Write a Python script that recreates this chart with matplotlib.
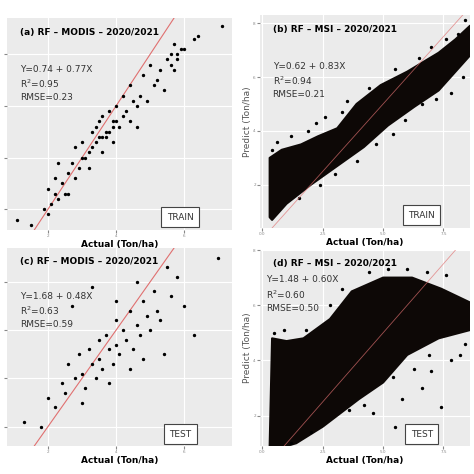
import numpy as np
import matplotlib.pyplot as plt
from matplotlib.patches import Polygon

# ── данные, оценены по картинке ────────────────────────────────────────
# (a) RF - MODIS train
a_x = [1.1, 1.5, 1.9, 2.0, 2.1, 2.2, 2.0, 2.3, 2.4, 2.2, 2.5, 2.6, 2.3, 2.8, 2.7, 2.9, 3.0, 2.8,
       3.1, 3.2, 3.0, 3.3, 3.4, 3.5, 3.3, 3.6, 3.4, 3.7, 3.5, 3.8, 3.6, 3.9, 3.7, 4.0, 3.8, 4.1,
       3.9, 4.2, 4.0, 4.3, 4.4, 4.2, 4.5, 4.6, 4.4, 4.7, 4.8, 5.0, 5.1, 5.2, 5.4, 5.5, 5.6, 5.7,
       5.6, 5.8, 5.9, 5.7, 5.8, 6.0, 6.3, 6.4, 7.1, 3.6, 3.9, 4.6, 4.9, 5.3, 2.6, 3.2]
a_y = [1.8, 1.7, 2.0, 1.9, 2.1, 2.3, 2.4, 2.2, 2.5, 2.6, 2.3, 2.7, 2.9, 2.6, 2.9, 2.8, 3.0, 3.2,
       3.0, 3.1, 3.3, 3.2, 3.3, 3.4, 3.5, 3.4, 3.6, 3.5, 3.7, 3.5, 3.8, 3.6, 3.4, 3.7, 3.9, 3.6,
       3.7, 3.8, 4.0, 3.9, 3.7, 4.2, 4.1, 4.0, 4.4, 4.2, 4.6, 4.8, 4.4, 4.5, 4.3, 4.9, 5.0, 5.2,
       4.8, 5.0, 5.1, 4.7, 4.9, 5.1, 5.3, 5.35, 5.55, 3.1, 3.3, 3.6, 4.1, 4.7, 2.3, 2.8]

# (c) RF - MODIS test
c_x = [1.3, 1.8, 2.0, 2.2, 2.4, 2.5, 2.6, 2.8, 2.9, 3.0, 3.1, 3.2, 3.3, 3.4, 3.5, 3.5, 3.6, 3.7,
       3.8, 3.9, 4.0, 4.0, 4.1, 4.2, 4.3, 4.4, 4.5, 4.6, 4.7, 4.8, 4.9, 5.0, 5.1, 5.2, 5.3, 5.4,
       5.6, 5.8, 6.0, 6.3, 7.0, 2.7, 3.0, 3.8, 4.4, 4.6, 5.5, 3.3, 4.0, 4.8]
c_y = [2.1, 2.0, 2.6, 2.4, 2.9, 2.7, 3.3, 3.0, 3.5, 3.1, 2.8, 3.6, 3.3, 3.0, 3.8, 3.4, 3.2, 3.9,
       3.6, 3.3, 4.2, 3.7, 3.5, 4.0, 3.8, 4.4, 3.6, 4.1, 3.9, 4.6, 4.3, 4.0, 4.8, 4.4, 4.2, 3.5,
       4.7, 5.1, 4.5, 3.9, 5.5, 4.5, 2.5, 2.9, 3.2, 5.0, 5.3, 4.9, 4.6, 3.4]

# (b) RF - MSI train: контур плотного облака + точки по краям
b_cloud_x = [0.3, 0.3, 0.8, 1.6, 2.3, 3.1, 3.9, 4.9, 6.0, 7.3, 8.0, 8.6, 8.6, 8.0, 7.3, 6.3, 5.2, 4.2, 3.1, 2.0, 1.0, 0.4]
b_cloud_y = [0.8, 3.0, 3.3, 3.5, 3.8, 4.1, 5.0, 5.7, 6.2, 6.9, 7.4, 7.9, 6.8, 6.2, 5.5, 4.9, 4.2, 3.4, 2.7, 2.0, 1.3, 0.7]
b_out_x = [0.4, 0.6, 1.2, 1.9, 2.6, 3.3, 3.5, 4.4, 5.5, 6.5, 7.0, 7.6, 8.1, 8.4, 1.5, 2.4, 3.9, 4.7, 5.4, 5.9, 6.6, 7.2, 7.8, 8.3, 3.0, 2.2]
b_out_y = [3.3, 3.6, 3.8, 4.0, 4.5, 4.7, 5.1, 5.6, 6.3, 6.7, 7.1, 7.4, 7.6, 8.1, 1.5, 2.0, 2.9, 3.5, 3.9, 4.4, 5.0, 5.2, 5.4, 6.0, 2.4, 4.3]

# (d) RF - MSI test
d_cloud_x = [0.3, 0.4, 1.0, 1.7, 2.8, 3.7, 5.0, 6.2, 7.4, 8.6, 8.6, 7.3, 6.0, 5.0, 4.0, 2.5, 1.4, 0.6]
d_cloud_y = [0.9, 4.8, 4.7, 4.8, 5.5, 6.5, 7.0, 7.0, 6.6, 6.1, 5.1, 4.8, 4.2, 3.2, 2.6, 1.6, 1.0, 0.8]
d_out_x = [0.5, 0.9, 1.8, 3.3, 4.4, 5.2, 6.0, 6.8, 7.6, 8.2, 5.8, 6.6, 4.6, 7.4, 2.8,
           6.9, 5.5, 7.0, 7.8, 8.4, 6.3, 5.4, 4.2, 3.6, 1.2, 2.0]
d_out_y = [5.0, 5.1, 5.1, 6.6, 7.2, 7.3, 7.3, 7.2, 7.1, 4.2, 2.6, 3.0, 2.1, 2.3, 6.0,
           4.2, 1.6, 3.6, 4.0, 4.6, 3.7, 3.4, 2.4, 2.2, 1.0, 1.4]

labels = ["(a) RF \u2013 MODIS \u2013 2020/2021", "(b) RF \u2013 MSI \u2013 2020/2021",
          "(c) RF \u2013 MODIS \u2013 2020/2021", "(d) RF \u2013 MSI \u2013 2020/2021"]
stats = ["Y=0.74 + 0.77X\nR$^2$=0.95\nRMSE=0.23", "Y=0.62 + 0.83X\nR$^2$=0.94\nRMSE=0.21",
         "Y=1.68 + 0.48X\nR$^2$=0.63\nRMSE=0.59", "Y=1.48 + 0.60X\nR$^2$=0.60\nRMSE=0.50"]
stat_pos = [0.78, 0.78, 0.78, 0.87]

fig = plt.figure(figsize=(4.74, 4.74), dpi=100)
W = 474
def box(x0, y0, x1, y1):
    return [x0 / W, 1 - y1 / W, (x1 - x0) / W, (y1 - y0) / W]

axa = fig.add_axes(box(7, 18, 232, 230))
axb = fig.add_axes(box(260, 15, 470, 228))
axc = fig.add_axes(box(7, 248, 232, 446))
axd = fig.add_axes(box(260, 250, 470, 446))

def style(ax):
    ax.set_facecolor("#ebebeb")
    ax.grid(True, color="white", linewidth=0.8)
    ax.set_axisbelow(True)
    for s in ax.spines.values():
        s.set_visible(False)
    ax.tick_params(length=2, labelsize=3, colors="#888888", pad=1)

for ax in (axa, axc):
    style(ax)
    ax.set_xlim(0.8, 7.4)
    ax.set_ylim(1.6, 5.7)
    ax.set_xticks([2, 4, 6])
    ax.set_yticks([2, 3, 4, 5])
    ax.set_yticklabels([])
    ax.plot([0, 8], [0, 8], color="#e07070", linewidth=0.8)
axa.scatter(a_x, a_y, s=2, color="black", zorder=3)
axc.scatter(c_x, c_y, s=2, color="black", zorder=3)

for ax, cx, cy, ox, oy, lo in ((axb, b_cloud_x, b_cloud_y, b_out_x, b_out_y, 0.4),
                               (axd, d_cloud_x, d_cloud_y, d_out_x, d_out_y, 0.9)):
    style(ax)
    ax.set_xlim(-0.1, 8.6)
    ax.set_ylim(lo, 8.3 if lo < 0.5 else 7.5)
    ax.set_xticks([0, 2.5, 5, 7.5])
    ax.set_xticklabels(["0.0", "2.5", "5.0", "7.5"])
    ax.set_yticks([2, 4, 6, 8])
    ax.add_patch(Polygon(np.column_stack([cx, cy]), closed=True, fc="#0d0806", ec="#0d0806",
                         lw=1.5, joinstyle="round", zorder=2))
    ax.scatter(ox, oy, s=2, color="black", zorder=3)
    ax.plot([0, 9], [0, 9], color="#e07070", linewidth=0.6, alpha=0.7, zorder=4)
    ax.set_ylabel("Predict (Ton/ha)", fontsize=6.5, color="#555555", labelpad=1)

for ax in (axa, axb, axc, axd):
    ax.set_xlabel("Actual (Ton/ha)", fontsize=6.5, fontweight="bold", labelpad=1)

for ax, lab, st, tag, sp in ((axa, labels[0], stats[0], "TRAIN", stat_pos[0]),
                             (axb, labels[1], stats[1], "TRAIN", stat_pos[1]),
                             (axc, labels[2], stats[2], "TEST", stat_pos[2]),
                             (axd, labels[3], stats[3], "TEST", stat_pos[3])):
    ax.text(0.06, 0.93, lab, transform=ax.transAxes, fontsize=6.5, fontweight="bold",
            va="center", zorder=6)
    ax.text(0.06 if sp < 0.8 else 0.03, sp, st, transform=ax.transAxes, fontsize=6.5,
            color="#333333", va="top", linespacing=1.4, zorder=6)
    ax.text(0.77, 0.06, tag, transform=ax.transAxes, fontsize=6.5, color="#333333",
            ha="center", va="center", zorder=6,
            bbox=dict(boxstyle="square,pad=0.6", fc="white", ec="#444444", lw=0.8))

fig.savefig("out.png", dpi=100)
